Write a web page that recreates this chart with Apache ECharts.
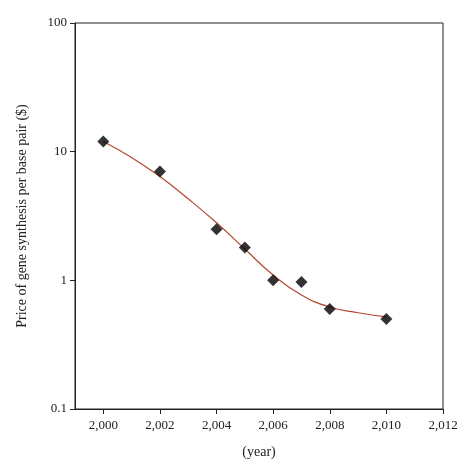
<!DOCTYPE html>
<html><head><meta charset="utf-8">
<script src="https://cdn.jsdelivr.net/npm/echarts@6/dist/echarts.min.js"></script>
<style>html,body{margin:0;background:#fff}#c{width:474px;height:474px}</style>
</head><body><div id="c"></div>
<script>
const years = [2000, 2002, 2004, 2005, 2006, 2007, 2008, 2010];
const prices = [12, 7, 2.5, 1.8, 1.0, 0.97, 0.6, 0.5];
const fitYears = [2000, 2001, 2002, 2003, 2004, 2005, 2006, 2007, 2008, 2009, 2010];
const fitPrices = [12, 9.0, 6.4, 4.3, 2.8, 1.75, 1.1, 0.77, 0.62, 0.56, 0.52];
const xTicks = [2000, 2002, 2004, 2006, 2008, 2010, 2012];
const font = 'Liberation Serif';
const chart = echarts.init(document.getElementById('c'));
chart.setOption({
  animation: false,
  grid: {left: 75, right: 31, top: 23, bottom: 65},
  xAxis: {type: 'value', min: 1999, max: 2012,
    name: '(year)', nameLocation: 'middle', nameGap: 36,
    nameTextStyle: {fontFamily: font, fontSize: 14, color: '#222'},
    axisLine: {lineStyle: {color: '#222', width: 1}},
    axisTick: {customValues: xTicks, lineStyle: {color: '#222'}, length: 5},
    axisLabel: {customValues: xTicks, fontFamily: font, fontSize: 13, color: '#222', margin: 10},
    splitLine: {show: false}},
  yAxis: {type: 'log', logBase: 10, min: 0.1, max: 100,
    name: 'Price of gene synthesis per base pair ($)', nameLocation: 'middle', nameGap: 46,
    nameTextStyle: {fontFamily: font, fontSize: 14, color: '#222'},
    axisLine: {show: true, lineStyle: {color: '#222', width: 1}},
    axisTick: {show: true, lineStyle: {color: '#222'}, length: 5},
    axisLabel: {fontFamily: font, fontSize: 13, color: '#222'},
    splitLine: {show: false}},
  series: [
    {type: 'line', data: fitYears.map((y, i) => [y, fitPrices[i]]), smooth: 0.5,
     showSymbol: false, lineStyle: {color: '#b4472f', width: 1.2}, z: 1},
    {type: 'scatter', data: years.map((y, i) => [y, prices[i]]),
     symbol: 'diamond', symbolSize: 12, itemStyle: {color: '#000'}, z: 2}
  ]
});
chart.setOption({graphic: [{type: 'rect', shape: {x: 75, y: 23, width: 368, height: 386},
  style: {fill: 'none', stroke: '#222', lineWidth: 1}, silent: true}]});
</script></body></html>
